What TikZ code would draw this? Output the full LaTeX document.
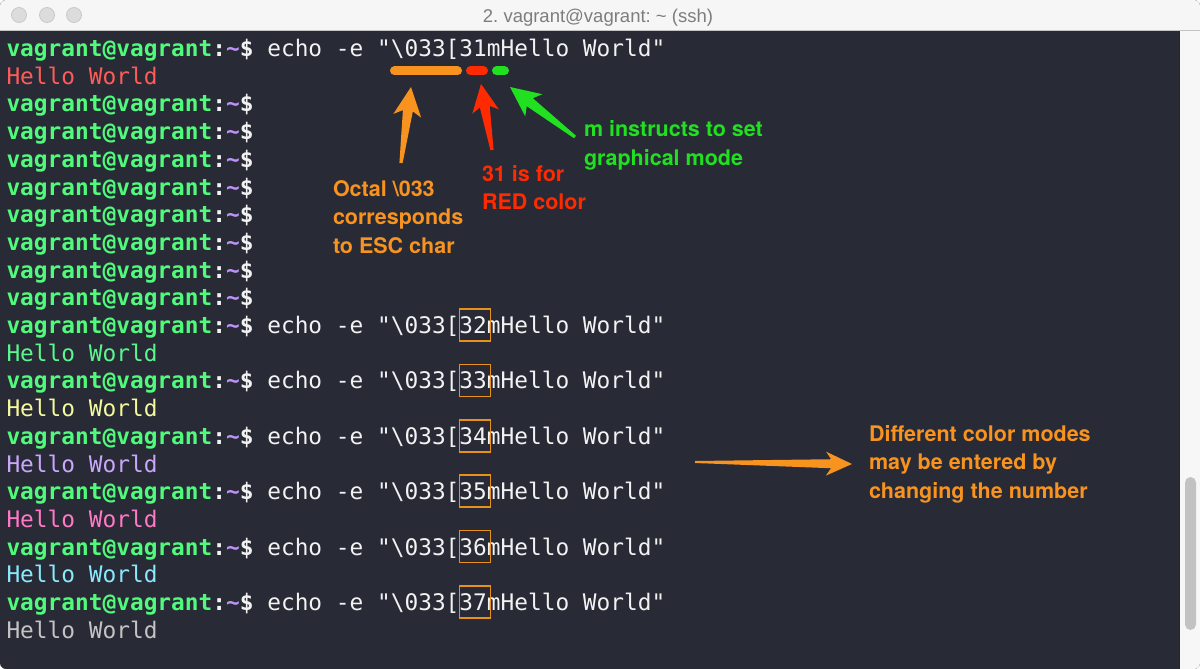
\documentclass[tikz,border=0pt]{standalone}
\usepackage{fontspec}
\setmainfont{TeX Gyre Heros}
\newfontfamily\termfont{DejaVu Sans Mono}
\newfontfamily\titlefont{Liberation Sans}
\usetikzlibrary{calc}
\frenchspacing
\definecolor{termbg}{HTML}{282A36}
\definecolor{titlebg}{HTML}{F6F6F6}
\definecolor{titleline}{HTML}{C4C4C4}
\definecolor{stripbg}{HTML}{F7F7F7}
\definecolor{thumbgray}{HTML}{C2C2C2}
\definecolor{btnfill}{HTML}{DCDCDC}
\definecolor{btndraw}{HTML}{C9C9C9}
\definecolor{titlegray}{HTML}{7D7D7D}
\definecolor{pgreen}{HTML}{50FA7B}
\definecolor{ptilde}{HTML}{BD93F9}
\definecolor{cmdwhite}{HTML}{F2F2F2}
\definecolor{hred}{HTML}{FF5C57}
\definecolor{hgreen}{HTML}{5AF78E}
\definecolor{hyellow}{HTML}{F3F99D}
\definecolor{hpurple}{HTML}{C9A7FA}
\definecolor{hpink}{HTML}{FF79C6}
\definecolor{hcyan}{HTML}{8BE9FD}
\definecolor{hgray}{HTML}{C4C4C4}
\definecolor{skOrange}{HTML}{F7931E}
\definecolor{skRed}{HTML}{FF2A00}
\definecolor{skGreen}{HTML}{20E020}
\definecolor{boxorange}{HTML}{E8901C}
\newcommand\prm{{\bfseries\textcolor{pgreen}{vagrant@vagrant}\textcolor{cmdwhite}{:}\textcolor{ptilde}{\textasciitilde}\textcolor{cmdwhite}{\$}}}
% color, tail, tip, tail half width, shaft half width, head half width, head length, join length
\newcommand\skarrow[8]{%
  \coordinate (#2-j) at ($(#3)!#8!(#2)$);
  \coordinate (#2-h) at ($(#3)!#7!(#2)$);
  \fill[#1] ($(#2)!#4!90:(#3)$) -- ($(#2-j)!#5!90:(#3)$) -- ($(#2-h)!#6!90:(#3)$) -- (#3)
    -- ($(#2-h)!#6!-90:(#3)$) -- ($(#2-j)!#5!-90:(#3)$) -- ($(#2)!#4!-90:(#3)$) -- cycle;
}
\begin{document}
\begin{tikzpicture}[x=1pt,y=-1pt,
  termtext/.style={anchor=base west, inner sep=0pt, outer sep=0pt,
    font=\termfont\fontsize{22.8pt}{27.7pt}\selectfont, text=cmdwhite},
  annot/.style={anchor=base west, inner sep=0pt, outer sep=0pt,
    font=\fontsize{21.5pt}{28.5pt}\selectfont\bfseries},
  numbox/.style={draw=boxorange, line width=1.6pt, inner sep=0pt,
    minimum width=31pt, minimum height=32pt},
  btn/.style={circle, fill=btnfill, draw=btndraw, line width=0.8pt,
    minimum size=15pt, inner sep=0pt},
  bar/.style={line width=9pt, line cap=round}]
\useasboundingbox (0,0) rectangle (1200,669);
\fill[white] (0,0) rectangle (1200,669);
\begin{scope}
  \clip[rounded corners=6pt] (0,0) rectangle (1200,669);
  \fill[termbg] (0,0) rectangle (1200,669);
  \fill[titlebg] (0,0) rectangle (1200,30);
  \fill[stripbg] (1180,31) rectangle (1200,669);
\end{scope}
\draw[titleline, line width=1pt] (0,30.5) -- (1200,30.5);
\draw[black!85, line width=1pt] (1179.5,31) -- (1179.5,669);
\node[fill=thumbgray, rounded corners=5.5pt, inner sep=0pt, minimum width=11pt,
  minimum height=153pt] (thumb) at (1190.5,553.5) {};
% title bar
\node[btn] (b1) at (19,15) {};
\node[btn] (b2) at (47,15) {};
\node[btn] (b3) at (74,15) {};
\node[anchor=base, inner sep=0pt, font=\titlefont\fontsize{18.5pt}{20pt}\selectfont,
  text=titlegray] (title) at (598,22.7) {2. vagrant@vagrant: \textasciitilde\ (ssh)};
% terminal lines
\node[termtext] (r0) at (6.5,56.5) {\prm\ echo -e "\textbackslash 033[31mHello World"};
\node[termtext, text=hred] (r1) at (6.5,84.2) {Hello World};
\foreach \k in {2,...,9}
  \node[termtext] (r\k) at (6.5,{56.5+27.7*\k}) {\prm};
\foreach \k/\j/\n/\c in {10/11/32/hgreen, 12/13/33/hyellow, 14/15/34/hpurple,
    16/17/35/hpink, 18/19/36/hcyan, 20/21/37/hgray} {
  \node[termtext] (r\k) at (6.5,{56.5+27.7*\k}) {\prm\ echo -e "\textbackslash 033[\n mHello World"};
  \node[termtext, text=\c] (r\j) at (6.5,{56.5+27.7*\j}) {Hello World};
  \node[numbox] (box\n) at (475,{56.5+27.7*\k-8.5}) {};
}
% underline bars
\draw[bar, skOrange] (394.5,71) -- (457.5,71);
\draw[bar, skRed] (470.5,71) -- (483.5,71);
\draw[bar, skGreen] (496.5,71) -- (504.5,71);
% arrows
\coordinate (oaT) at (401,163); \coordinate (oaP) at (411,87);
\coordinate (raT) at (492,150); \coordinate (raP) at (481,84);
\coordinate (gaT) at (575,137); \coordinate (gaP) at (510,87);
\coordinate (baT) at (695,462); \coordinate (baP) at (852,464);
\skarrow{skOrange}{oaT}{oaP}{1.6pt}{5pt}{14pt}{29pt}{24pt}
\skarrow{skRed}{raT}{raP}{1.6pt}{5pt}{13.5pt}{28pt}{23pt}
\skarrow{skGreen}{gaT}{gaP}{1.6pt}{5pt}{14pt}{30pt}{25pt}
\skarrow{skOrange}{baT}{baP}{1pt}{4.5pt}{12pt}{26pt}{21pt}
% annotations
\node[annot, text=skOrange] (o1) at (333,196) {Octal \textbackslash 033};
\node[annot, text=skOrange] (o2) at (333,224.5) {corresponds};
\node[annot, text=skOrange] (o3) at (333,253) {to ESC char};
\node[annot, text=skRed] (t1) at (482,181) {31 is for};
\node[annot, text=skRed] (t2) at (482,209.5) {RED color};
\node[annot, text=skGreen] (g1) at (584,136.5) {m instructs to set};
\node[annot, text=skGreen] (g2) at (584,165) {graphical mode};
\node[annot, text=skOrange] (d1) at (869,441) {Different color modes};
\node[annot, text=skOrange] (d2) at (869,469.5) {may be entered by};
\node[annot, text=skOrange] (d3) at (869,498) {changing the number};
\end{tikzpicture}
\end{document}
